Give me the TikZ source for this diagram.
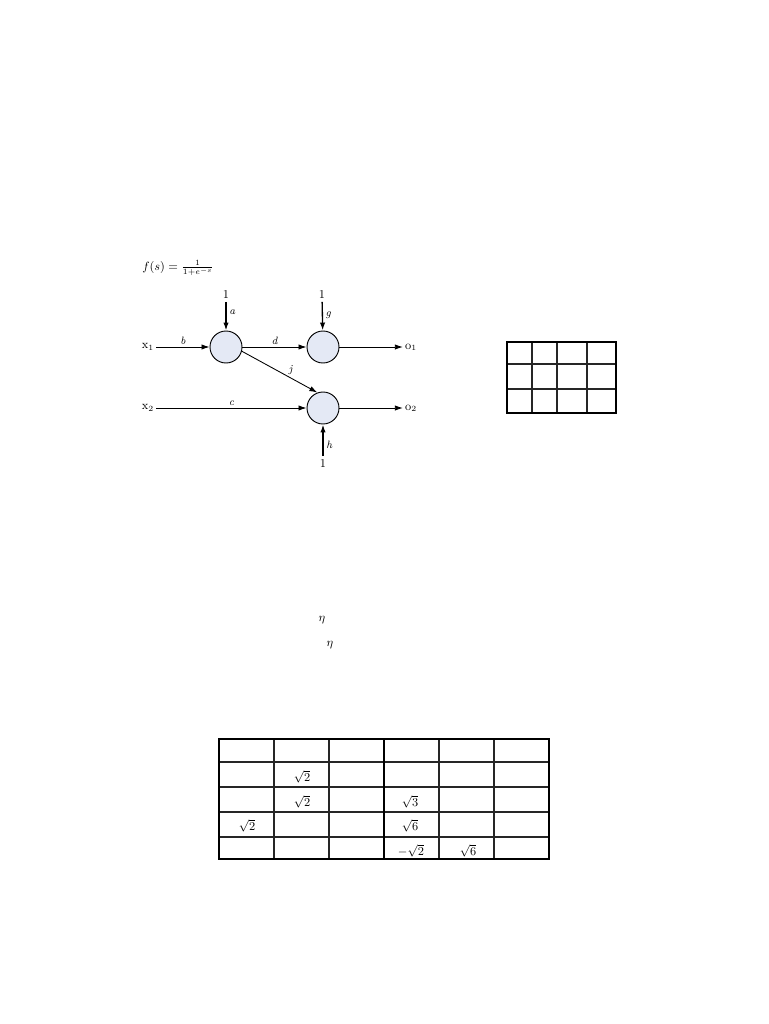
\documentclass[tikz,border=0pt]{standalone}
\usetikzlibrary{arrows.meta, positioning}
\definecolor{neuronfill}{RGB}{228,233,245}
\tikzset{
    neuron/.style={circle, draw, line width=0.7pt, fill=neuronfill, inner sep=0pt, minimum size=24pt},
    termLbl/.style={inner sep=1.5pt, font=\small},
    biasLbl/.style={inner sep=2pt, font=\small},
    netEdge/.style={-{Latex[length=6pt, width=4pt]}, line width=0.65pt},
    biasEdge/.style={-{Latex[length=6pt, width=4pt]}, line width=1pt},
    gridThin/.style={line width=0.8pt, black!85},
    gridThick/.style={line width=1.4pt},
    cellTxt/.style={inner sep=0pt, font=\small},
}
\newcommand{\drawLink}[4][netEdge]{
    \draw[#1] (#2) -- node[above, font=\footnotesize\itshape, inner sep=1.5pt] {#4} (#3);
}
\newcommand{\drawBias}[4]{
    \draw[biasEdge] (#1) -- node[pos=#4, right, font=\footnotesize\itshape, inner sep=2pt] {#3} (#2);
}
\begin{document}
\begin{tikzpicture}[x=0.75pt, y=-0.75pt]
        \useasboundingbox (0,0) rectangle (768,1024);

        % activation
        \node[anchor=west, font=\small, inner sep=0pt] (fs) at (142,268) {$f(s)=\frac{1}{1+e^{-s}}$};

        % network
        \node[neuron] (n1) at (226,347) {};
        \node[neuron] (n2) at (323,347) {};
        \node[neuron] (n3) at (323,408) {};

        \node[termLbl] (x1) at (148,347) {x$_1$};
        \node[termLbl] (x2) at (148,408) {x$_2$};
        \node[termLbl] (o1) at (411,347) {o$_1$};
        \node[termLbl] (o2) at (411,408) {o$_2$};
        \node[biasLbl] (u1) at (226,295) {1};
        \node[biasLbl] (u2) at (322,295) {1};
        \node[biasLbl] (u3) at (323,463) {1};

        \drawLink{x1}{n1}{b}
        \drawLink{n1}{n2}{d}
        \drawLink{x2}{n3}{c}
        \drawLink{n2}{o1}{}
        \drawLink{n3}{o2}{}
        \draw[netEdge] (n1.-15) -- node[pos=0.6, above right, font=\footnotesize\itshape, inner sep=1pt] {j} (n3.110);
        \drawBias{u1}{n1}{a}{0.35}
        \drawBias{u2}{n2}{g}{0.45}
        \drawBias{u3}{n3}{h}{0.35}

        % small table
        \foreach \x in {532,557,587}
            \draw[gridThin] (\x,342) -- (\x,413);
        \foreach \y in {364,389}
            \draw[gridThin] (507,\y) -- (616,\y);
        \draw[gridThick] (507,342) rectangle (616,413);

        % learning rate
        \node[font=\small, inner sep=0pt] (eta1) at (322,620) {$\eta$};
        \node[font=\small, inner sep=0pt] (eta2) at (330,645) {$\eta$};

        % large table
        \foreach \x in {274,329,439,494}
            \draw[gridThin] (\x,739) -- (\x,859);
        \foreach \y in {762,787,812,837}
            \draw[gridThin] (219,\y) -- (549,\y);
        \draw[gridThick] (384,739) -- (384,859);
        \draw[gridThick] (219,739) rectangle (549,859);

        \node[cellTxt] (c22) at (302,777) {$\sqrt{2}$};
        \node[cellTxt] (c32) at (302,802) {$\sqrt{2}$};
        \node[cellTxt] (c34) at (410,802) {$\sqrt{3}$};
        \node[cellTxt] (c41) at (247,826) {$\sqrt{2}$};
        \node[cellTxt] (c44) at (410,826) {$\sqrt{6}$};
        \node[cellTxt] (c54) at (411,851) {$-\sqrt{2}$};
        \node[cellTxt] (c55) at (468,851) {$\sqrt{6}$};

    \end{tikzpicture}
\end{document}
